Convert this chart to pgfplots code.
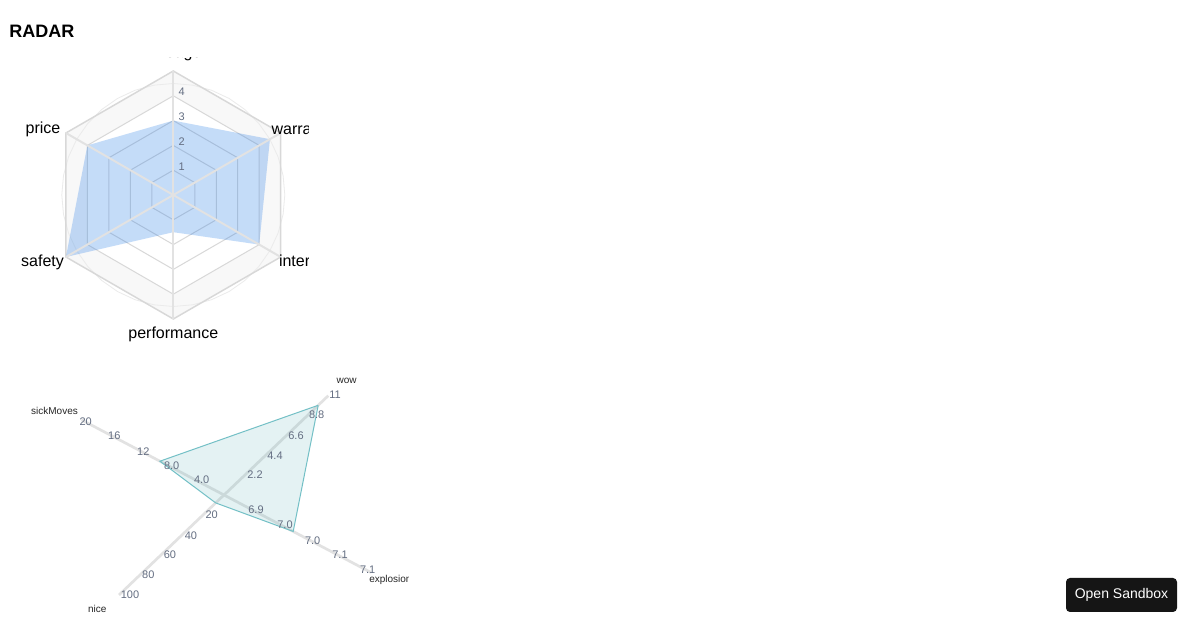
\documentclass[border=0pt]{standalone}
\usepackage{fontspec}
\setmainfont{Liberation Sans}
\usepackage{pgfplots}
\usepackage{pgfplotstable}
\pgfplotsset{compat=1.18}

\definecolor{spoke}{RGB}{226,226,226}
\definecolor{ring}{RGB}{216,216,216}
\definecolor{band}{RGB}{248,248,248}
\definecolor{ticklbl}{RGB}{100,110,130}
\definecolor{radarblue}{RGB}{30,120,230}
\definecolor{tealfill}{RGB}{75,170,178}
\definecolor{tealline}{RGB}{115,192,198}
\definecolor{btn}{RGB}{21,21,21}

% car scores: spoke angle (deg), score (outer ring = 5)
\pgfplotstableread{
angle value
90 3
30 4.5
-30 4
-90 1.5
-150 5
150 4
90 3
}\carscores

% moves: spoke angle (deg), value, value at centre, pixels per unit
\pgfplotstableread{
angle value vmin pxper
43.6 9.9 0 13.14
152.2 9 0 8.05
223.6 8 0 1.435
-27.8 7.0 6.877 636
43.6 9.9 0 13.14
}\moves

% hexagon of radius #1 (pixels) in the axis
\newcommand{\hexring}[2]{%
  \draw[#2] (axis cs:0,#1) -- (axis cs:{0.866*#1},{0.5*#1}) -- (axis cs:{0.866*#1},{-0.5*#1})
    -- (axis cs:0,-#1) -- (axis cs:{-0.866*#1},{-0.5*#1}) -- (axis cs:{-0.866*#1},{0.5*#1}) -- cycle;}
% picture point from pixel position (y measured from the top)
\newcommand{\px}[2]{(#1,630-#2)}

\begin{document}
\begin{tikzpicture}[x=0.75pt,y=0.75pt]
\path[fill=white,use as bounding box] (0,0) rectangle (1200,630);

\node[anchor=base west,inner sep=0,font=\fontsize{13.5pt}{15pt}\selectfont\bfseries] at \px{9}{37.3} {RADAR};

% ---------- hexagon radar ----------
\begin{scope}
\clip \px{8}{58} rectangle \px{308}{358};
\begin{axis}[at={(173.3,435)}, anchor=center, x=0.75pt, y=0.75pt,
  xmin=-200, xmax=200, ymin=-200, ymax=200, hide axis, clip=false]
  \hexring{124}{fill=band,draw=none}
  \hexring{99.2}{fill=white,draw=none}
  \draw[spoke!70,line width=0.6pt] (axis cs:{111.5*cos(0)},0)
    \foreach \a in {10,20,...,350} {-- (axis cs:{111.5*cos(\a)},{111.5*sin(\a)})} -- cycle;
  \hexring{24.8}{ring,line width=0.75pt}
  \hexring{49.6}{ring,line width=0.75pt}
  \hexring{74.4}{ring,line width=0.75pt}
  \hexring{99.2}{ring,line width=0.75pt}
  \hexring{124}{ring,line width=1.1pt}
  \addplot[draw=none, fill=radarblue, fill opacity=0.26]
    table[x expr={24.8*\thisrow{value}*cos(\thisrow{angle})},
          y expr={24.8*\thisrow{value}*sin(\thisrow{angle})}] {\carscores};
  \draw[spoke,line width=1.5pt] (axis cs:0,124) -- (axis cs:0,-124);
  \draw[spoke,line width=1.5pt] (axis cs:107.4,62) -- (axis cs:-107.4,-62);
  \draw[spoke,line width=1.5pt] (axis cs:107.4,-62) -- (axis cs:-107.4,62);
\end{axis}
\begin{scope}[every node/.style={inner sep=0,font=\fontsize{12pt}{14pt}\selectfont}]
  \node[anchor=base] at \px{173.3}{57.3} {mileage};
  \node[anchor=base] at \px{43}{133.3} {price};
  \node[anchor=base] at \px{302.3}{134.5} {warranty};
  \node[anchor=base] at \px{42.5}{266.5} {safety};
  \node[anchor=base] at \px{303.5}{266.7} {interior};
  \node[anchor=base] at \px{173.3}{338.3} {performance};
\end{scope}
\begin{scope}[every node/.style={inner sep=0,anchor=base west,text=ticklbl,font=\fontsize{8.25pt}{9pt}\selectfont}]
  \node at \px{178.3}{170.2} {1};
  \node at \px{178.3}{145.4} {2};
  \node at \px{178.3}{120.6} {3};
  \node at \px{178.3}{95.8} {4};
\end{scope}
\end{scope}

% ---------- four-axis radar ----------
\begin{scope}
\clip \px{8}{365} rectangle \px{408}{625};
\begin{axis}[at={(224,135)}, anchor=center, x=0.75pt, y=0.75pt,
  xmin=-200, xmax=200, ymin=-200, ymax=200, hide axis, clip=false]
  \draw[spoke,line width=2pt] (axis cs:{144*cos(43.6)},{144*sin(43.6)}) -- (axis cs:{145*cos(223.6)},{145*sin(223.6)});
  \draw[spoke,line width=2pt] (axis cs:{161*cos(152.2)},{161*sin(152.2)}) -- (axis cs:{166*cos(-27.8)},{166*sin(-27.8)});
  \addplot[draw=tealline, line width=0.75pt, fill=tealfill, fill opacity=0.15]
    table[x expr={(\thisrow{value}-\thisrow{vmin})*\thisrow{pxper}*cos(\thisrow{angle})},
          y expr={(\thisrow{value}-\thisrow{vmin})*\thisrow{pxper}*sin(\thisrow{angle})}] {\moves};
\end{axis}
\begin{scope}[every node/.style={inner sep=0,text=ticklbl,font=\fontsize{8.25pt}{9pt}\selectfont}]
  \node at \px{335}{394.3} {11};
  \node at \px{316.7}{415} {8.8};
  \node at \px{296}{435.3} {6.6};
  \node at \px{275}{455.7} {4.4};
  \node at \px{255}{475} {2.2};
  \node at \px{85.7}{421.7} {20};
  \node at \px{114.3}{436} {16};
  \node at \px{143.3}{451.7} {12};
  \node at \px{171.7}{466} {8.0};
  \node at \px{201.7}{480} {4.0};
  \node at \px{211.7}{515} {20};
  \node at \px{191}{535.7} {40};
  \node at \px{170}{555} {60};
  \node at \px{148.3}{575} {80};
  \node at \px{130}{595} {100};
  \node at \px{256}{510} {6.9};
  \node at \px{285}{524.3} {7.0};
  \node at \px{312.7}{540.7} {7.0};
  \node at \px{340}{555} {7.1};
  \node at \px{367.7}{570} {7.1};
\end{scope}
\begin{scope}[every node/.style={inner sep=0,text=black!85,font=\fontsize{7.5pt}{8pt}\selectfont}]
  \node at \px{346.7}{380.7} {wow};
  \node at \px{54.5}{410.7} {sickMoves};
  \node at \px{97.3}{609.3} {nice};
  \node[anchor=west] at \px{369}{580} {explosion};
\end{scope}
\end{scope}

% ---------- sandbox button ----------
\fill[btn,rounded corners=3pt] \px{1066}{578} rectangle \px{1177}{612};
\node[inner sep=0,text=white,font=\fontsize{10.5pt}{12pt}\selectfont] at \px{1121.5}{595} {Open Sandbox};
\end{tikzpicture}
\end{document}
